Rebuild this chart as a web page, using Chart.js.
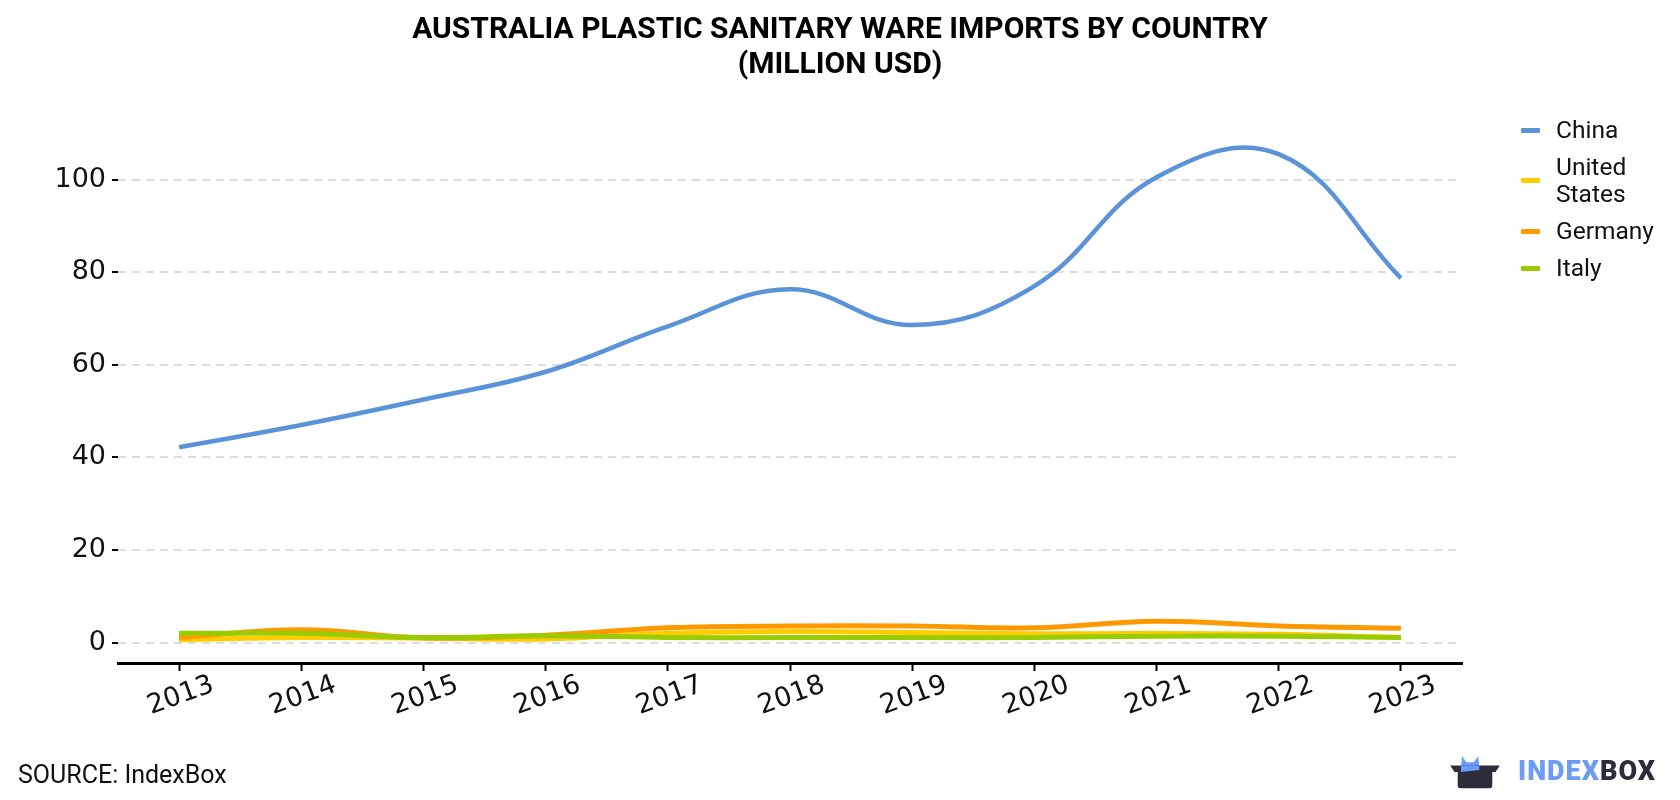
<!DOCTYPE html>
<html>
<head>
<meta charset="utf-8">
<script src="https://cdn.jsdelivr.net/npm/chart.js@4/dist/chart.umd.min.js"></script>
<style>
  html, body { margin: 0; padding: 0; background: #fff; }
  #wrap { position: relative; width: 1680px; height: 800px; overflow: hidden; font-family: Roboto, sans-serif; }
  #title { position: absolute; left: 0; top: 10px; width: 1680px; text-align: center; font-weight: bold; font-size: 30px; line-height: 35px; color: #000; }
  canvas { position: absolute; left: 0; top: 0; }
  #legend { position: absolute; left: 1521px; top: 116px; font-size: 24.5px; color: #111; }
  .item { position: relative; padding-left: 35px; margin-bottom: 10px; line-height: 27px; }
  .item i { position: absolute; left: 0; top: 50%; width: 19px; height: 5px; margin-top: -2px; border-radius: 1px; }
  #source { position: absolute; left: 18px; top: 760px; font-size: 25px; color: #111; }
  #logo { position: absolute; left: 1448px; top: 752px; height: 38px; }
  #logo .txt { position: absolute; left: 70px; top: 3px; font-weight: 900; font-size: 27px; letter-spacing: 1px; white-space: nowrap; }
</style>
</head>
<body>
<div id="wrap">
  <canvas id="lineChart" width="1680" height="800"></canvas>
  <div id="title">AUSTRALIA PLASTIC SANITARY WARE IMPORTS BY COUNTRY<br>(MILLION USD)</div>
  <div id="legend"></div>
  <div id="source">SOURCE: IndexBox</div>
  <div id="logo">
    <svg width="54" height="38" viewBox="0 0 50 34">
      <path d="M13 3 L17 9 L24 9 L28 3 L29 14 L12 14 Z" fill="#6c9cf5"/>
      <path d="M2 12 L48 12 L44 18 L41 18 L41 31 Q41 33 39 33 L11 33 Q9 33 9 31 L9 18 L6 18 Z" fill="#2b2d3a"/>
      <path d="M12 12 L29 12 L29 16 L12 18 Z" fill="#6c9cf5"/>
    </svg>
    <div class="txt"><span style="color:#6c9cf5">INDEX</span><span style="color:#2b2d3a">BOX</span></div>
  </div>
</div>
<script>
const years = ['2013', '2014', '2015', '2016', '2017', '2018', '2019', '2020', '2021', '2022', '2023'];
const china = [42.2, 47.0, 52.5, 58.5, 68.3, 76.3, 68.6, 77.0, 100.5, 105.5, 78.7];
const unitedStates = [0.6, 1.1, 1.0, 0.8, 2.0, 2.4, 2.2, 1.9, 2.0, 1.8, 1.1];
const germany = [1.1, 2.8, 1.0, 1.6, 3.2, 3.6, 3.6, 3.2, 4.6, 3.6, 3.1];
const italy = [2.0, 2.0, 1.1, 1.5, 1.1, 1.1, 1.1, 1.1, 1.4, 1.4, 1.1];
const yTicks = [0, 20, 40, 60, 80, 100];

const seriesNames = ['China', ['United', 'States'], 'Germany', 'Italy'];
const seriesColors = ['#5b93d9', '#ffcc00', '#ff9900', '#99cc00'];

document.addEventListener('DOMContentLoaded', () => {
  const canvas = document.getElementById('lineChart');
  if (!canvas) return;

  // html legend
  const legend = document.getElementById('legend');
  seriesNames.forEach((name, i) => {
    const el = document.createElement('div');
    el.className = 'item';
    el.innerHTML = '<i style="background:' + seriesColors[i] + '"></i>' + [].concat(name).join('<br>');
    legend.appendChild(el);
  });

  const ctx = canvas.getContext('2d');
  new Chart(ctx, {
    type: 'line',
    data: {
      labels: years,
      datasets: [
        { label: 'China', data: china, borderColor: seriesColors[0], borderWidth: 4.5, order: 3 },
        { label: 'United States', data: unitedStates, borderColor: seriesColors[1], borderWidth: 5, order: 2 },
        { label: 'Germany', data: germany, borderColor: seriesColors[2], borderWidth: 5, order: 1 },
        { label: 'Italy', data: italy, borderColor: seriesColors[3], borderWidth: 5, order: 0 }
      ]
    },
    options: {
      responsive: false,
      animation: false,
      layout: { padding: { top: 124, right: 218, bottom: 40, left: 0 } },
      elements: {
        point: { radius: 0 },
        line: { tension: 0.4, fill: false, borderCapStyle: 'butt' }
      },
      plugins: {
        legend: { display: false },
        title: { display: false },
        tooltip: { enabled: false }
      },
      scales: {
        x: {
          offset: true,
          grid: { display: true, drawOnChartArea: false, offset: false, tickLength: 8, tickColor: '#000', tickWidth: 2 },
          border: { display: true, color: '#000', width: 3 },
          ticks: { color: '#111', font: { family: 'DejaVu Sans', size: 27 }, maxRotation: 20, minRotation: 20, padding: -2, labelOffset: 34 },
          afterFit: (scale) => { scale.height = 97; }
        },
        y: {
          min: -4.4,
          max: 112,
          afterBuildTicks: (scale) => { scale.ticks = yTicks.map(v => ({ value: v })); },
          grid: { color: '#dddddd', lineWidth: 2, tickLength: 6, tickColor: '#000', tickWidth: 2, tickBorderDash: [] },
          border: { display: false, dash: [8, 6] },
          ticks: { color: '#111', font: { family: 'DejaVu Sans', size: 27 }, padding: 6 },
          afterFit: (scale) => { scale.width = 118; }
        }
      }
    }
  });
});
</script>
</body>
</html>
